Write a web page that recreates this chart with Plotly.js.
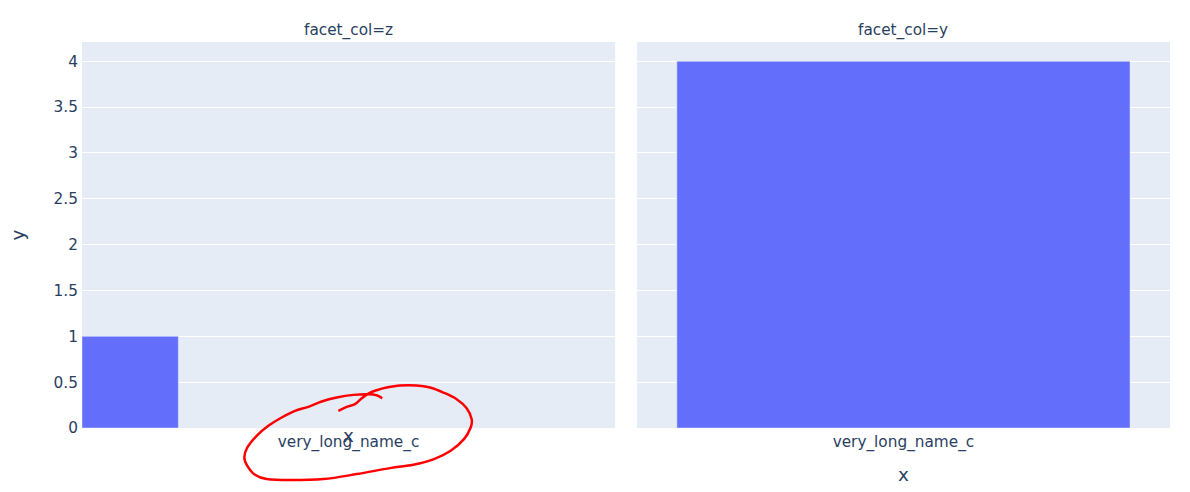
<!DOCTYPE html>
<html>
<head>
<meta charset="utf-8">
<script src="https://cdn.plot.ly/plotly-3.0.1.min.js"></script>
<style>html,body{margin:0;padding:0;background:#fff;}#chart{width:1190px;height:492px;}</style>
</head>
<body>
<div id="chart"></div>
<script>
// ---- data ----
var categories = ["very_long_name_c"];
var facetLabels = ["facet_col=z", "facet_col=y"];
var valuesZ = [1];
var valuesY = [4];
var xTitle = "x";
var yTitle = "y";

// hand-drawn red highlight (page pixel points, decoration only)
var scribbleX = [295,320,345,362,385,410,440,480,530,570,610,650,680,695,692,672,632,582,520,450,350,250,150,80,45,22,13,22,50,85,125,165,205,245,290,340,385,410,427];
var scribbleY = [100,88,80,65,48,38,30,24,24,30,45,65,92,125,150,185,220,245,262,272,290,305,308,305,292,265,240,210,175,145,120,100,88,72,60,52,50,53,62];

// ---- layout constants ----
var W = 1190, H = 492;
var M = {l: 82, r: 20, t: 42, b: 63.5};
var pw = W - M.l - M.r, ph = H - M.t - M.b;
function toPaperX(px) { return (px - M.l) / pw; }
function toPaperY(py) { return (H - M.b - py) / ph; }

var pts = scribbleX.map(function (zx, i) {
  return [toPaperX(240 + zx / 3), toPaperY(378 + scribbleY[i] / 3)];
});
function catmull(p) {
  var d = "M" + p[0][0] + "," + p[0][1];
  for (var i = 0; i < p.length - 1; i++) {
    var p0 = p[i - 1] || p[i], p1 = p[i], p2 = p[i + 1], p3 = p[i + 2] || p2;
    var c1x = p1[0] + (p2[0] - p0[0]) / 6, c1y = p1[1] + (p2[1] - p0[1]) / 6;
    var c2x = p2[0] - (p3[0] - p1[0]) / 6, c2y = p2[1] - (p3[1] - p1[1]) / 6;
    d += " C" + c1x + "," + c1y + " " + c2x + "," + c2y + " " + p2[0] + "," + p2[1];
  }
  return d;
}

var FS = 15.3, TS = 18.4;
var barColor = "#636efa";
var traces = [
  {type: "bar", x: categories, y: valuesZ, xaxis: "x", yaxis: "y",
   offset: -0.5, width: 0.1807,
   marker: {color: barColor, line: {color: "#E5ECF6", width: 0.5}}, showlegend: false},
  {type: "bar", x: categories, y: valuesY, xaxis: "x2", yaxis: "y2",
   width: 0.85,
   marker: {color: barColor, line: {color: "#E5ECF6", width: 0.5}}, showlegend: false}
];

var axisCommon = {gridcolor: "white", linecolor: "white", zerolinecolor: "white", ticks: "", automargin: false};
var layout = {
  width: W, height: H,
  margin: M,
  font: {family: '"DejaVu Sans", Verdana, sans-serif', size: FS, color: "#2a3f5f"},
  paper_bgcolor: "white",
  plot_bgcolor: "#E5ECF6",
  showlegend: false,
  xaxis: Object.assign({}, axisCommon, {domain: [0, 0.49], anchor: "y", type: "category", showgrid: false,
    range: [-0.5, 0.5], categoryorder: "array", categoryarray: categories}),
  xaxis2: Object.assign({}, axisCommon, {domain: [0.51, 1], anchor: "y2", type: "category", showgrid: false,
    range: [-0.5, 0.5], categoryorder: "array", categoryarray: categories,
    title: {text: xTitle, font: {size: TS}, standoff: 16}}),
  yaxis: Object.assign({}, axisCommon, {domain: [0, 1], anchor: "x", dtick: 0.5,
    title: {text: yTitle, font: {size: TS}, standoff: 24}}),
  yaxis2: Object.assign({}, axisCommon, {domain: [0, 1], anchor: "x2", matches: "y", showticklabels: false}),
  annotations: [
    {text: facetLabels[0], x: 0.245, y: 1, xref: "paper", yref: "paper", xanchor: "center", yanchor: "bottom", showarrow: false, font: {size: FS}},
    {text: facetLabels[1], x: 0.755, y: 1, xref: "paper", yref: "paper", xanchor: "center", yanchor: "bottom", showarrow: false, font: {size: FS}},
    {text: xTitle, x: 0.245, y: toPaperY(436.5), xref: "paper", yref: "paper", xanchor: "center", yanchor: "middle", showarrow: false, font: {size: TS}}
  ],
  shapes: [
    {type: "path", xref: "paper", yref: "paper", layer: "above", path: catmull(pts),
     line: {color: "rgb(255,0,0)", width: 2.5}}
  ]
};

Plotly.newPlot("chart", traces, layout, {displayModeBar: false});
</script>
</body>
</html>
